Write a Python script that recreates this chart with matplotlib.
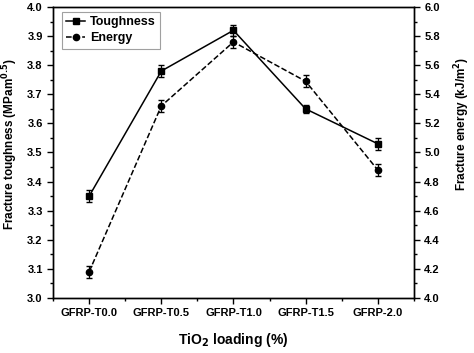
import matplotlib
matplotlib.use("Agg")
import matplotlib.pyplot as plt
from matplotlib.ticker import MultipleLocator

plt.rcParams['font.family'] = ['Liberation Sans', 'DejaVu Sans']
plt.rcParams['font.weight'] = 'bold'
plt.rcParams['mathtext.default'] = 'bf'

samples = ["GFRP-T0.0", "GFRP-T0.5", "GFRP-T1.0", "GFRP-T1.5", "GFRP-2.0"]
toughness = [3.35, 3.78, 3.92, 3.65, 3.53]
toughness_err = [0.02, 0.02, 0.02, 0.015, 0.02]
energy = [4.18, 5.32, 5.76, 5.49, 4.88]
energy_err = [0.04, 0.04, 0.04, 0.04, 0.04]

x = list(range(len(samples)))

fig, ax = plt.subplots(figsize=(4.74, 3.53), dpi=100)
fig.subplots_adjust(left=0.112, right=0.873, top=0.980, bottom=0.156)
ax2 = ax.twinx()

l1 = ax.errorbar(x, toughness, yerr=toughness_err, color="black", marker="s",
                 markersize=4.5, lw=1.1, capsize=2.5, elinewidth=0.9,
                 label="Toughness")
l2 = ax2.errorbar(x, energy, yerr=energy_err, color="black", marker="o",
                  markersize=4.5, lw=1.1, ls="--", capsize=2.5, elinewidth=0.9,
                  label="Energy")

ax.set_xlim(-0.5, 4.5)
ax.set_ylim(3.0, 4.0)
ax2.set_ylim(4.0, 6.0)
ax.set_xticks(x)
ax.set_xticklabels(samples)
ax.xaxis.set_minor_locator(MultipleLocator(0.5))
ax.yaxis.set_major_locator(MultipleLocator(0.1))
ax.yaxis.set_minor_locator(MultipleLocator(0.05))
ax2.yaxis.set_major_locator(MultipleLocator(0.2))
ax2.yaxis.set_minor_locator(MultipleLocator(0.1))

for a in (ax, ax2):
    a.tick_params(which="major", direction="out", length=4, width=1, labelsize=8)
    a.tick_params(which="minor", direction="out", length=2.5, width=1)
    for s in a.spines.values():
        s.set_linewidth(1)

ax.set_xlabel("TiO$_2$ loading (%)", fontsize=10, fontweight="bold")
ax.xaxis.set_label_coords(0.5, -0.115)
ax.set_ylabel("Fracture toughness (MPam$^{0.5}$)", fontsize=8.5, fontweight="bold")
ax.yaxis.set_label_coords(-0.093, 0.53)
ax2.set_ylabel("Fracture energy (kJ/m$^{2}$)", fontsize=8.5, fontweight="bold",
               rotation=90)
ax2.yaxis.set_label_coords(1.108, 0.6)

# legend shows only line + marker, no error bars
leg = ax.legend([l1.lines[0], l2.lines[0]], ["Toughness", "Energy"],
                loc="upper left", fontsize=9, frameon=True, fancybox=False,
                edgecolor="#888888", handlelength=1.5, handletextpad=0.4,
                borderpad=0.35, labelspacing=0.3, borderaxespad=0,
                bbox_to_anchor=(0.025, 0.983))
leg.get_frame().set_linewidth(0.8)
for t in leg.get_texts():
    t.set_fontweight("bold")

fig.savefig("out.png", dpi=100)
